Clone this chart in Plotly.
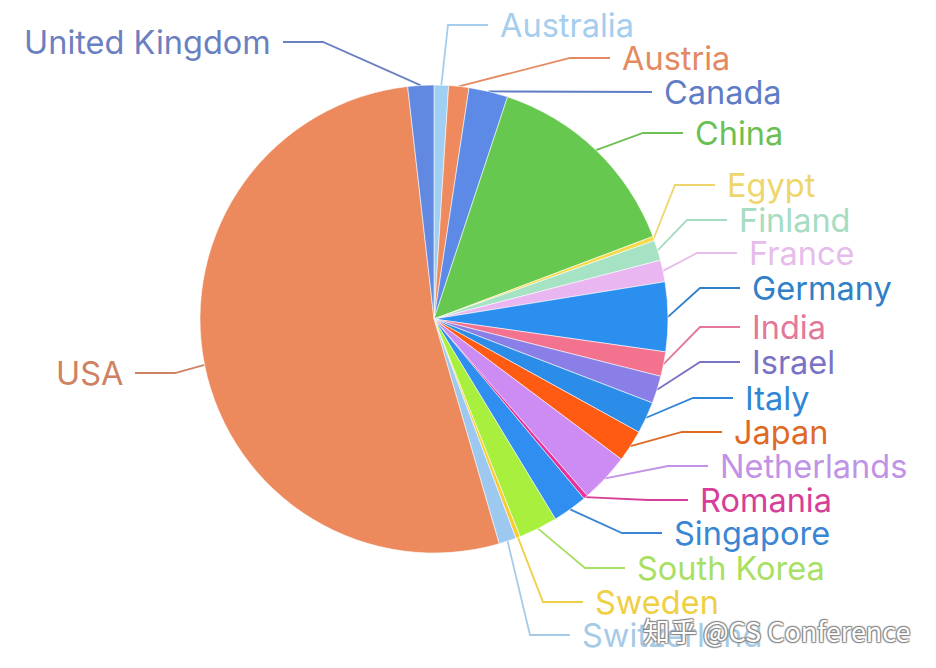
import math
import plotly.graph_objects as go

# ---------------- data ----------------
countries = ["Australia", "Austria", "Canada", "China", "Egypt", "Finland", "France",
             "Germany", "India", "Israel", "Italy", "Japan", "Netherlands", "Romania",
             "Singapore", "South Korea", "Sweden", "Switzerland", "USA", "United Kingdom"]
values = [1.0, 1.4, 2.7, 14.2, 0.3, 1.4, 1.5, 4.8, 1.7, 1.9, 2.2, 2.2, 3.4, 0.3,
          2.4, 2.7, 0.3, 1.2, 52.8, 1.8]

slice_colors = ["#9fcff2", "#ee8a5d", "#5d8ae6", "#66c84e", "#f7da4a", "#a6e2c4", "#e9b6f1",
                "#2b8ff0", "#f3728d", "#8a7fe6", "#2c8de8", "#ff5b12", "#cd8cf4", "#e9309d",
                "#2f8ef0", "#a9f03e", "#f8cc30", "#9dc9f0", "#ec8a5e", "#6289e2"]
label_colors = ["#a4cdee", "#e38a62", "#5f7cc6", "#6cbf52", "#eed66c", "#a5dcc2", "#e6bdea",
                "#2f80c8", "#e2789a", "#7a72c6", "#2f86d6", "#de6a24", "#c193e6", "#d63e98",
                "#3a86d4", "#a9df62", "#eed044", "#a7cbe6", "#cf8262", "#6b80c0"]

# ---------------- label layout ----------------
label_y = [25, 58, 92, 133, 185, 220, 253, 288, 327, 362, 398, 432, 466, 500,
           533, 568, 602, 635, 373, 42]
elbow_x = [448, 570, 612, 643, 675, 687, 697, 700, 700, 700, 693, 682, 668, 648,
           622, 585, 543, 530, 175, 323]

W, H = 936, 668
CX, CY, R = 434, 319, 234
SEG, GAP = 40, 10
FONT = "Inter"
FSIZE = 32.5

fig = go.Figure()

fig.add_trace(go.Pie(
    labels=countries, values=values, sort=False, direction="clockwise", rotation=0,
    marker=dict(colors=slice_colors, line=dict(color="rgba(255,255,255,0.7)", width=0.8)),
    textinfo="none", hoverinfo="label+percent", showlegend=False,
    domain=dict(x=[(CX - R) / W, (CX + R) / W], y=[(H - CY - R) / H, (H - CY + R) / H]),
))

total = sum(values)
cum = 0.0
annotations = []
for name, v, lc, ly, ex in zip(countries, values, label_colors, label_y, elbow_x):
    mid = (cum + v / 2) / total * 2 * math.pi
    cum += v
    sx = CX + R * math.sin(mid)
    sy = CY - R * math.cos(mid)
    right = math.sin(mid) >= 0
    endx = ex + SEG if right else ex - SEG
    fig.add_trace(go.Scatter(
        x=[sx, ex, endx], y=[sy, ly, ly], mode="lines",
        line=dict(color=lc, width=1.8), hoverinfo="skip", showlegend=False,
        xaxis="x", yaxis="y",
    ))
    annotations.append(dict(
        x=endx + GAP if right else endx - GAP, y=ly, xref="x", yref="y",
        text=name, showarrow=False, xanchor="left" if right else "right", yanchor="middle",
        font=dict(family=FONT, size=FSIZE, color=lc),
    ))

annotations.append(dict(
    x=776, y=630, xref="x", yref="y", text="知乎 @CS Conference", showarrow=False,
    xanchor="center", yanchor="middle",
    font=dict(family="Noto Sans CJK SC", size=27, color="#ffffff",
              shadow="1px 1px 1px #888, -1px -1px 1px #888, 1px -1px 1px #888, -1px 1px 1px #888"),
))

fig.update_layout(
    width=W, height=H, margin=dict(l=0, r=0, t=0, b=0),
    paper_bgcolor="white", plot_bgcolor="rgba(0,0,0,0)",
    xaxis=dict(range=[0, W], visible=False, fixedrange=True, domain=[0, 1]),
    yaxis=dict(range=[H, 0], visible=False, fixedrange=True, domain=[0, 1]),
    annotations=annotations,
)

fig.write_html("out.html", config={"displayModeBar": False},
               post_script="document.body.style.margin='0';document.body.style.overflow='hidden';")
